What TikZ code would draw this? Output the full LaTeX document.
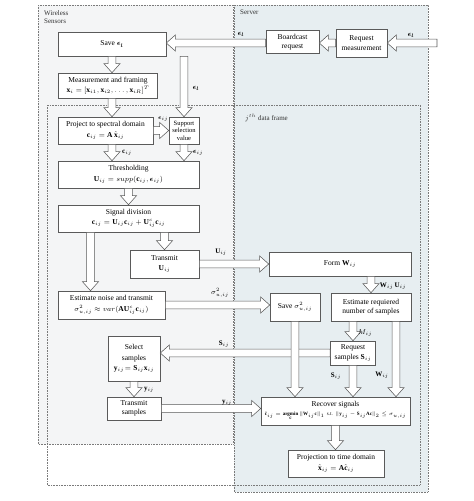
\documentclass[tikz,border=0pt]{standalone}
\usepackage{amsmath,bm}
\usepackage{fontspec}
\setmainfont{Liberation Serif}
\usetikzlibrary{calc}
\definecolor{wsfill}{HTML}{F4F5F6}
\definecolor{svfill}{HTML}{E7EEF1}
\definecolor{lineg}{HTML}{5A5A5A}
\definecolor{dotg}{HTML}{7A7A7A}
\newcommand\sw{3.8pt}
\newcommand\hw{8pt}
\newcommand\hl{9pt}
\newcommand\barr[2]{%
  \coordinate (bS) at #1;
  \coordinate (bE) at #2;
  \coordinate (bB) at ($(bE)!\hl!(bS)$);
  \draw[barrowsty] ($(bS)!\sw!90:(bE)$) -- ($(bB)!\sw!90:(bE)$) -- ($(bB)!\hw!90:(bE)$) -- (bE) -- ($(bB)!\hw!-90:(bE)$) -- ($(bB)!\sw!-90:(bE)$) -- ($(bS)!\sw!-90:(bE)$) -- cycle;
}
\begin{document}
\begin{tikzpicture}[x=1pt,y=-1pt,
  box/.style={draw=lineg, fill=white, line width=0.6pt, align=center, inner sep=1pt, font=\fontsize{7.5}{10.5}\selectfont},
  wh/.style 2 args={minimum width=#1pt, minimum height=#2pt},
  barrowsty/.style={draw=lineg, fill=white, line width=0.55pt, line join=miter},
  lbl/.style={font=\fontsize{7}{8}\selectfont, inner sep=0pt},
  region/.style={draw=dotg, densely dotted, line width=0.6pt},
  rlbl/.style={font=\fontsize{7}{8}\selectfont, inner sep=0pt, align=left, anchor=north west, text=black!80}]
\useasboundingbox (0,0) rectangle (474,501);
% regions
\fill[wsfill] (38,5) rectangle (233,444);
\fill[svfill] (234,5) rectangle (428,492);
\draw[region] (38,5) rectangle (233,444);
\draw[region] (234,5) rectangle (428,492);
\draw[region] (47,105) rectangle (420,485);
\node[rlbl] (lws) at (44,10) {Wireless\\Sensors};
\node[rlbl] (lsv) at (240,10) {Server};
\node[rlbl] (ldf) at (245,114) {$j^{th}$ data frame};
% nodes
\node[box, wh={108}{24}] (save) at (112,44) {Save $\bm{\epsilon}_{\bm{l}}$};
\node[box, wh={99}{25}, font=\fontsize{7.5}{9.5}\selectfont] (meas) at (108,85.5) {Measurement and framing\\ $\mathbf{x}_i=[\mathbf{x}_{i1},\mathbf{x}_{i2},\dots,\mathbf{x}_{iR}]^T$};
\node[box, wh={95}{27}] (proj) at (105.5,130.5) {Project to spectral domain\\ $\mathbf{c}_{ij}=\mathbf{A}\,\hat{\mathbf{x}}_{ij}$};
\node[box, wh={30}{27}, font=\fontsize{6.5}{7.5}\selectfont, inner sep=0pt] (supp) at (184,130.5) {Support\\selection\\value};
\node[box, wh={141}{27}] (thr) at (128.5,174.5) {Thresholding\\ $\mathbf{U}_{ij}=supp(\mathbf{c}_{ij},\bm{\epsilon}_{ij})$};
\node[box, wh={141}{27}] (sd) at (128.5,218.5) {Signal division\\ $\mathbf{c}_{ij}=\mathbf{U}_{ij}\mathbf{c}_{ij}+\mathbf{U}^c_{ij}\mathbf{c}_{ij}$};
\node[box, wh={69}{28}] (tu) at (164.5,264) {Transmit\\ $\mathbf{U}_{ij}$};
\node[box, wh={107}{28}] (est) at (111.5,305) {Estimate noise and transmit\\ $\sigma^2_{u,ij}\approx var(\mathbf{A}\mathbf{U}^c_{ij}\mathbf{c}_{ij})$};
\node[box, wh={52}{45}] (sel) at (134,358.5) {Select\\samples\\ $\mathbf{y}_{ij}\!=\mathbf{S}_{ij}\mathbf{x}_{ij}$};
\node[box, wh={54}{23}, font=\fontsize{7.5}{9}\selectfont] (ts) at (134,408.5) {Transmit\\samples};
\node[box, wh={53}{23}, font=\fontsize{7.5}{9}\selectfont] (br) at (292.5,42) {Boardcast\\request};
\node[box, wh={51}{28}, font=\fontsize{7.5}{9.5}\selectfont] (rm) at (361.5,43) {Request\\measurement};
\node[box, wh={142}{24}] (fw) at (340,264) {Form $\mathbf{W}_{ij}$};
\node[box, wh={50}{28}] (ss) at (295,307) {Save $\sigma^2_{u,ij}$};
\node[box, wh={80}{28}, font=\fontsize{7.5}{9.5}\selectfont] (er) at (371,307) {Estimate requiered\\number of samples};
\node[box, wh={45}{24}, font=\fontsize{7.5}{9.5}\selectfont] (rs) at (353,353) {Request\\samples $\mathbf{S}_{ij}$};
\node[box, wh={149}{28}, font=\fontsize{7.5}{8}\selectfont] (rec) at (335.5,411) {Recover signals\\[1pt] {\fontsize{5}{6}\selectfont $\hat{\mathbf{c}}_{ij}=\mathop{\textbf{argmin}}\limits_{\mathbf{c}}\|\mathbf{W}_{ij}\mathbf{c}\|_1$ \ s.t. \ $\|\mathbf{y}_{ij}-\mathbf{S}_{ij}\mathbf{A}\mathbf{c}\|_2\le\sigma_{u,ij}$}};
\node[box, wh={96}{27}] (ptd) at (336,463.5) {Projection to time domain\\ $\hat{\mathbf{x}}_{ij}=\mathbf{A}\hat{\mathbf{c}}_{ij}$};
% connectors
\coordinate (inE) at (437,43);
\barr{(inE)}{(inE -| rm.east)}
\barr{(inE -| rm.west)}{(inE -| br.east)}
\barr{(inE -| br.west)}{(inE -| save.east)}
\barr{(save.south)}{(save.south |- meas.north)}
\barr{(supp.north |- save.south)}{(supp.north)}
\barr{(meas.south -| save.south)}{(proj.north -| save.south)}
\barr{(proj.east)}{(proj.east -| supp.west)}
\barr{(proj.south -| save.south)}{(thr.north -| save.south)}
\barr{(supp.south)}{(supp.south |- thr.north)}
\barr{(thr.south)}{(sd.north)}
\barr{([xshift=-38pt]sd.south)}{([xshift=-38pt]sd.south |- est.north)}
\barr{(tu.north |- sd.south)}{(tu.north)}
\barr{(tu.east)}{(tu.east -| fw.west)}
\barr{(est.east)}{(est.east -| ss.west)}
\barr{(rs.west)}{(rs.west -| sel.east)}
\barr{(sel.south)}{(ts.north)}
\barr{(ts.east)}{(ts.east -| rec.west)}
\barr{(er.north |- fw.south)}{(er.north)}
\barr{(rs.north |- er.south)}{(rs.north)}
\barr{(ss.south)}{(ss.south |- rec.north)}
\barr{(rs.south)}{(rs.south |- rec.north)}
\barr{([xshift=25pt]er.south)}{([xshift=25pt]er.south |- rec.north)}
\barr{(rec.south)}{(rec.south |- ptd.north)}
% labels
\node[lbl] (l1) at (411,35) {$\bm{\epsilon}_{\bm{l}}$};
\node[lbl] (l2) at (241,34) {$\bm{\epsilon}_{\bm{l}}$};
\node[lbl] (l3) at (196,88) {$\bm{\epsilon}_{\bm{l}}$};
\node[lbl, font=\fontsize{6}{7}\selectfont] (l4) at (163,119) {$\bm{\epsilon}_{ij}$};
\node[lbl] (l5) at (127,153) {$\mathbf{c}_{ij}$};
\node[lbl] (l6) at (198,153) {$\bm{\epsilon}_{ij}$};
\node[lbl] (l7) at (221,252) {$\mathbf{U}_{ij}$};
\node[lbl] (l8) at (220,293) {$\sigma^2_{u,ij}$};
\node[lbl] (l9) at (224,344) {$\mathbf{S}_{ij}$};
\node[lbl] (l10) at (149,390) {$\mathbf{y}_{ij}$};
\node[lbl] (l11) at (227,403) {$\mathbf{y}_{ij}$};
\node[lbl] (l12) at (393,286) {$\mathbf{W}_{ij}\,\mathbf{U}_{ij}$};
\node[lbl] (l13) at (365,333) {$M_{ij}$};
\node[lbl] (l14) at (336,376) {$\mathbf{S}_{ij}$};
\node[lbl] (l15) at (382,375) {$\mathbf{W}_{ij}$};
\end{tikzpicture}
\end{document}
